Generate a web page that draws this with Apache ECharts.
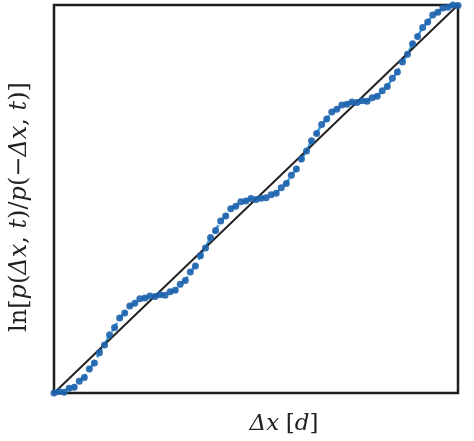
<!DOCTYPE html>
<html>
<head>
<meta charset="utf-8">
<script src="https://cdn.jsdelivr.net/npm/echarts@6/dist/echarts.min.js"></script>
<style>html,body{margin:0;padding:0;background:#fff}#chart{width:474px;height:441px}</style>
</head>
<body>
<div id="chart"></div>
<script>
// displacement (normalised) and log ratio
var dx = [0.000,0.0125,0.025,0.0375,0.05,0.0625,0.075,0.0875,0.1,0.1125,0.125,0.1375,0.15,0.1625,0.175,0.1875,0.2,0.2125,0.225,0.2375,
	0.25,0.2625,0.275,0.2875,0.3,0.3125,0.325,0.3375,0.35,0.3625,0.375,0.3875,0.4,0.4125,0.425,0.4375,0.45,0.4625,0.475,0.4875,
	0.5,0.5125,0.525,0.5375,0.55,0.5625,0.575,0.5875,0.6,0.6125,0.625,0.6375,0.65,0.6625,0.675,0.6875,0.7,0.7125,0.725,0.7375,
	0.75,0.7625,0.775,0.7875,0.8,0.8125,0.825,0.8375,0.85,0.8625,0.875,0.8875,0.9,0.9125,0.925,0.9375,0.95,0.9625,0.975,0.9875,1.0];
var logRatio = [0.000,0.004,0.002,0.012,0.015,0.030,0.040,0.062,0.077,0.104,0.124,0.150,0.169,0.193,0.206,0.224,0.231,0.243,0.245,0.250,
	0.249,0.253,0.252,0.261,0.265,0.280,0.290,0.312,0.327,0.354,0.374,0.401,0.419,0.443,0.456,0.475,0.481,0.493,0.495,0.501,
	0.499,0.502,0.503,0.511,0.515,0.529,0.540,0.561,0.577,0.603,0.624,0.650,0.669,0.692,0.706,0.724,0.731,0.742,0.744,0.750,
	0.749,0.753,0.752,0.761,0.765,0.779,0.790,0.811,0.827,0.853,0.873,0.900,0.919,0.942,0.956,0.974,0.981,0.992,0.994,1.000,0.999];

var pts = dx.map(function(x, i) { return [x, logRatio[i]]; });

var myChart = echarts.init(document.getElementById("chart"));
var serif = "DejaVu Serif";
var option = {
	animation: false,
	grid: {
		left: 45, right: 16, top: 5, bottom: 38,
		show: true, borderColor: '#1e1e1e', borderWidth: 2.5,
	},
	xAxis: {
		type: 'value', min: 0, max: 1,
		axisLine: { show: false }, axisTick: { show: false },
		axisLabel: { show: false }, splitLine: { show: false },
		name: '{i|Δx}  {n|[}{i|d}{n|]}',
		nameLocation: 'middle', nameGap: 20,
		nameTextStyle: {
			padding: [0, 0, 0, 56],
			rich: {
				i: { fontFamily: serif, fontStyle: 'italic', fontSize: 23, color: '#222' },
				n: { fontFamily: serif, fontSize: 23, color: '#222' },
			}
		},
	},
	yAxis: {
		type: 'value', min: 0, max: 1,
		axisLine: { show: false }, axisTick: { show: false },
		axisLabel: { show: false }, splitLine: { show: false },
		name: '{n|ln[}{i|p}{n|(}{i|Δx}{n|, }{i|t}{n|)/}{i|p}{n|(−}{i|Δx}{n|, }{i|t}{n|)]}',
		nameLocation: 'middle', nameGap: 22, nameRotate: 90,
		nameTextStyle: {
			padding: [0, 16, 0, 0],
			rich: {
				i: { fontFamily: serif, fontStyle: 'italic', fontSize: 24, color: '#222' },
				n: { fontFamily: serif, fontSize: 24, color: '#222' },
			}
		},
	},
	series: [
		{
			type: 'line',
			data: [[0, 0], [1, 1]],
			symbol: 'none',
			lineStyle: { color: '#222', width: 2 },
			z: 3,
		},
		{
			type: 'line',
			data: pts,
			symbol: 'none',
			lineStyle: { color: '#3a9ee0', width: 2.5, type: 'dashed' },
			z: 2,
		},
		{
			type: 'scatter',
			data: pts,
			symbolSize: 7,
			itemStyle: { color: '#1d62ad', opacity: 0.9 },
			z: 4,
		}
	]
};
option && myChart.setOption(option);
</script>
</body>
</html>
